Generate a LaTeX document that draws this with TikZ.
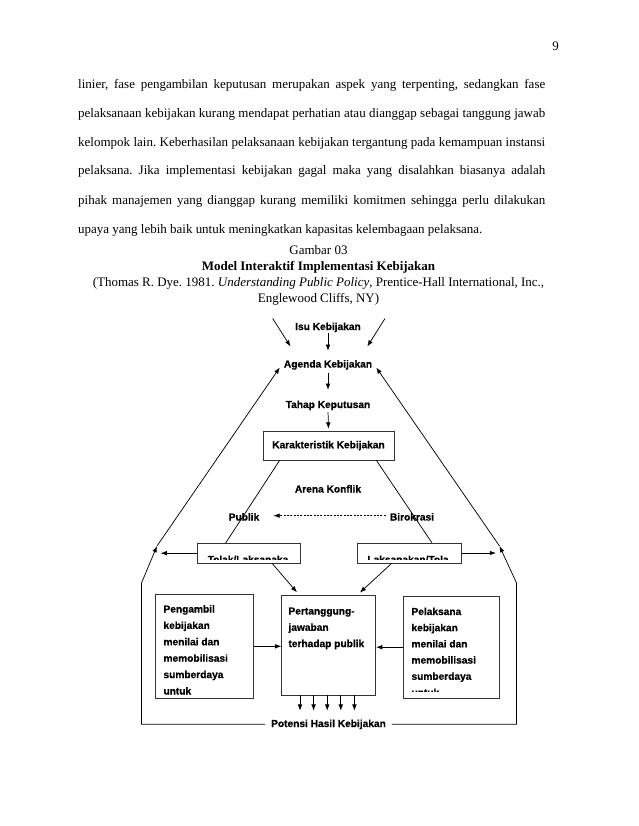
\documentclass[tikz,border=0pt]{standalone}
\usepackage{fontspec}
\setmainfont{Liberation Serif}
\newfontfamily\diafont{Liberation Sans Bold}[FakeBold=0.6]
\usetikzlibrary{arrows.meta,calc}
\newdimen\pxu \pxu=0.959pt
\frenchspacing
\begin{document}
\begin{tikzpicture}[x=0.959pt,y=-0.959pt,
  lbl/.style={font=\diafont\fontsize{9.75}{11}\selectfont, inner sep=0pt, text height=7.2pt, text depth=1.9pt},
  body/.style={font=\fontsize{12.45}{14}\selectfont, inner sep=0pt, anchor=base west},
  captxt/.style={font=\fontsize{12.45}{14}\selectfont, inner sep=0pt, anchor=base},
  arr/.style={line width=0.7pt, -{Latex[length=6pt,width=4.4pt]}},
  ln/.style={line width=0.7pt},
  box/.style={draw=black!80, line width=0.65pt, inner sep=0pt},
]
\useasboundingbox (0,0) rectangle (638,826);
\fill[white] (0,0) rectangle (638,826);

% page number and body text
\node[body, anchor=base east] (pnum) at (559,51) {9};
\node[body] (l1) at (78,89) {\makebox[447.9pt][s]{linier, fase pengambilan keputusan merupakan aspek yang terpenting, sedangkan fase}};
\node[body] (l2) at (78,118) {\makebox[447.9pt][s]{pelaksanaan kebijakan kurang mendapat perhatian atau dianggap sebagai tanggung jawab}};
\node[body] (l3) at (78,147) {\makebox[447.9pt][s]{kelompok lain. Keberhasilan pelaksanaan kebijakan tergantung pada kemampuan instansi}};
\node[body] (l4) at (78,175) {\makebox[447.9pt][s]{pelaksana. Jika implementasi kebijakan gagal maka yang disalahkan biasanya adalah}};
\node[body] (l5) at (78,204) {\makebox[447.9pt][s]{pihak manajemen yang dianggap kurang memiliki komitmen sehingga perlu dilakukan}};
\node[body] (l6) at (78,233) {upaya yang lebih baik untuk meningkatkan kapasitas kelembagaan pelaksana.};

% caption
\node[captxt] (c1) at (318.5,254) {Gambar 03};
\node[captxt] (c2) at (318.5,270.5) {\bfseries Model Interaktif Implementasi Kebijakan};
\node[captxt] (c3) at (318.5,286.5) {(Thomas R. Dye. 1981. \textit{Understanding Public Policy}, Prentice-Hall International, Inc.,};
\node[captxt] (c4) at (318.5,302) {Englewood Cliffs, NY)};

% diagram nodes
\node[lbl, anchor=base] (isu) at (328,330) {Isu Kebijakan};
\node[lbl, inner xsep=3.8pt, anchor=base] (agenda) at (328,367.5) {Agenda Kebijakan};
\node[lbl, anchor=base] (tahap) at (328,408) {Tahap Keputusan};
\node[box, lbl, minimum width=131*\pxu, minimum height=29*\pxu] (karak) at (328.5,445.5) {Karakteristik Kebijakan};
\node[lbl, anchor=base] (arena) at (328,492.5) {Arena Konflik};
\node[lbl, anchor=base] (publik) at (244,520.5) {Publik};
\node[lbl, anchor=base] (birok) at (412,520.5) {Birokrasi};
\node[box, minimum width=103*\pxu, minimum height=19.7*\pxu] (tolak) at (248.5,553.2) {};
\node[box, minimum width=104*\pxu, minimum height=20*\pxu] (laks) at (409,553) {};
\node[box, minimum width=97.6*\pxu, minimum height=104*\pxu] (pengambil) at (204.5,646.3) {};
\node[box, minimum width=94*\pxu, minimum height=100*\pxu] (pert) at (328.7,645) {};
\node[box, minimum width=96*\pxu, minimum height=101.5*\pxu] (pelak) at (451,647.2) {};
\node[lbl, inner xsep=5.5pt, anchor=base] (potensi) at (328.5,727) {Potensi Hasil Kebijakan};

% clipped texts of the two small boxes
\begin{scope}
\clip (tolak.north west) rectangle ([yshift=3.6pt]tolak.south east);
\node[lbl, anchor=base] (tolakt) at (248,563) {Tolak/Laksanaka};
\end{scope}
\begin{scope}
\clip (laks.north west) rectangle ([yshift=3.6pt]laks.south east);
\node[lbl, anchor=base] (lakst) at (408,563) {Laksanakan/Tola};
\end{scope}

% box texts
\foreach \t [count=\i] in {Pengambil, kebijakan, menilai dan, memobilisasi, sumberdaya, untuk}
  \node[lbl, anchor=base west] (pg\i) at (163.3,{612.5+(\i-1)*16.4}) {\t};
\foreach \t [count=\i] in {Pertanggung-, jawaban, terhadap publik}
  \node[lbl, anchor=base west] (pt\i) at (288.3,{614.5+(\i-1)*16.3}) {\t};
\begin{scope}
\clip (pelak.north west) rectangle ([yshift=6.2pt]pelak.south east);
\foreach \t [count=\i] in {Pelaksana, kebijakan, menilai dan, memobilisasi, sumberdaya, untuk}
  \node[lbl, anchor=base west] (pl\i) at (411.3,{615+(\i-1)*16.2}) {\t};
\end{scope}

% top connectors
\coordinate (tl) at (272.7,318.5);
\coordinate (tle) at (290.5,346.5);
\coordinate (tr) at (385,318.5);
\coordinate (tre) at (367.3,346.5);
\draw[arr] (tl) -- (tle);
\draw[arr] (tr) -- (tre);
\draw[arr, shorten <=1pt, shorten >=8.6pt] (isu.south) -- (agenda.north);
\draw[arr, shorten <=3.4pt, shorten >=10pt] (agenda.south) -- (tahap.north);
\draw[arr, shorten <=1.9pt, shorten >=1.9pt] (tahap.south) -- (karak.north);

% arena of conflict
\draw[ln] ($(karak.south west)+(17,0)$) -- ($(tolak.north west)+(29,0)$);
\draw[ln] ($(karak.south east)+(-18,0)$) -- ($(laks.north east)+(-29.5,0)$);
\draw[arr, line width=0.55pt, dash pattern=on 2pt off 1.2pt, shorten <=3.8pt, shorten >=13.4pt] ([yshift=2pt]birok.west) -- ([yshift=2pt]publik.east);

% side arrows from the small boxes
\coordinate (lt) at (160.5,553.5);
\coordinate (rt) at (496,553.5);
\draw[arr] (tolak.west) -- (tolak.west -| lt);
\draw[arr] (laks.east) -- (laks.east -| rt);

% to accountability box
\draw[arr, shorten >=2.9pt] ($(tolak.south west)+(75.5,0)$) -- ($(pert.north west)+(17.6,0)$);
\draw[arr, shorten >=2.9pt] ($(laks.south west)+(35,0)$) -- ($(pert.north east)+(-18.4,0)$);
\draw[arr] (pengambil.east) -- (pengambil.east -| pert.west);
\draw[arr] (pelak.west) -- (pelak.west -| pert.east);

% five outputs
\foreach \dx [count=\i] in {-28.7,-15.1,-1.5,12.1,25.7} {
  \path ($(pert.south)+(\dx,0)$) coordinate (s\i);
  \draw[arr, shorten >=8.2pt] (s\i) -- (s\i |- potensi.north);
}

% outer feedback loops
\coordinate (bl) at (141.5,723.3);
\coordinate (bl2) at (141.5,583);
\coordinate (lb) at (157,546);
\coordinate (br) at (516.5,723.3);
\coordinate (br2) at (516.5,583);
\coordinate (rb) at (499.5,546);
\draw[arr] (potensi.west) -- (potensi.west -| bl) -- (bl2) -- (lb);
\draw[arr] (lb) -- (agenda.base west);
\draw[arr] (potensi.east) -- (potensi.east -| br) -- (br2) -- (rb);
\draw[arr] (rb) -- (agenda.base east);
\end{tikzpicture}
\end{document}
